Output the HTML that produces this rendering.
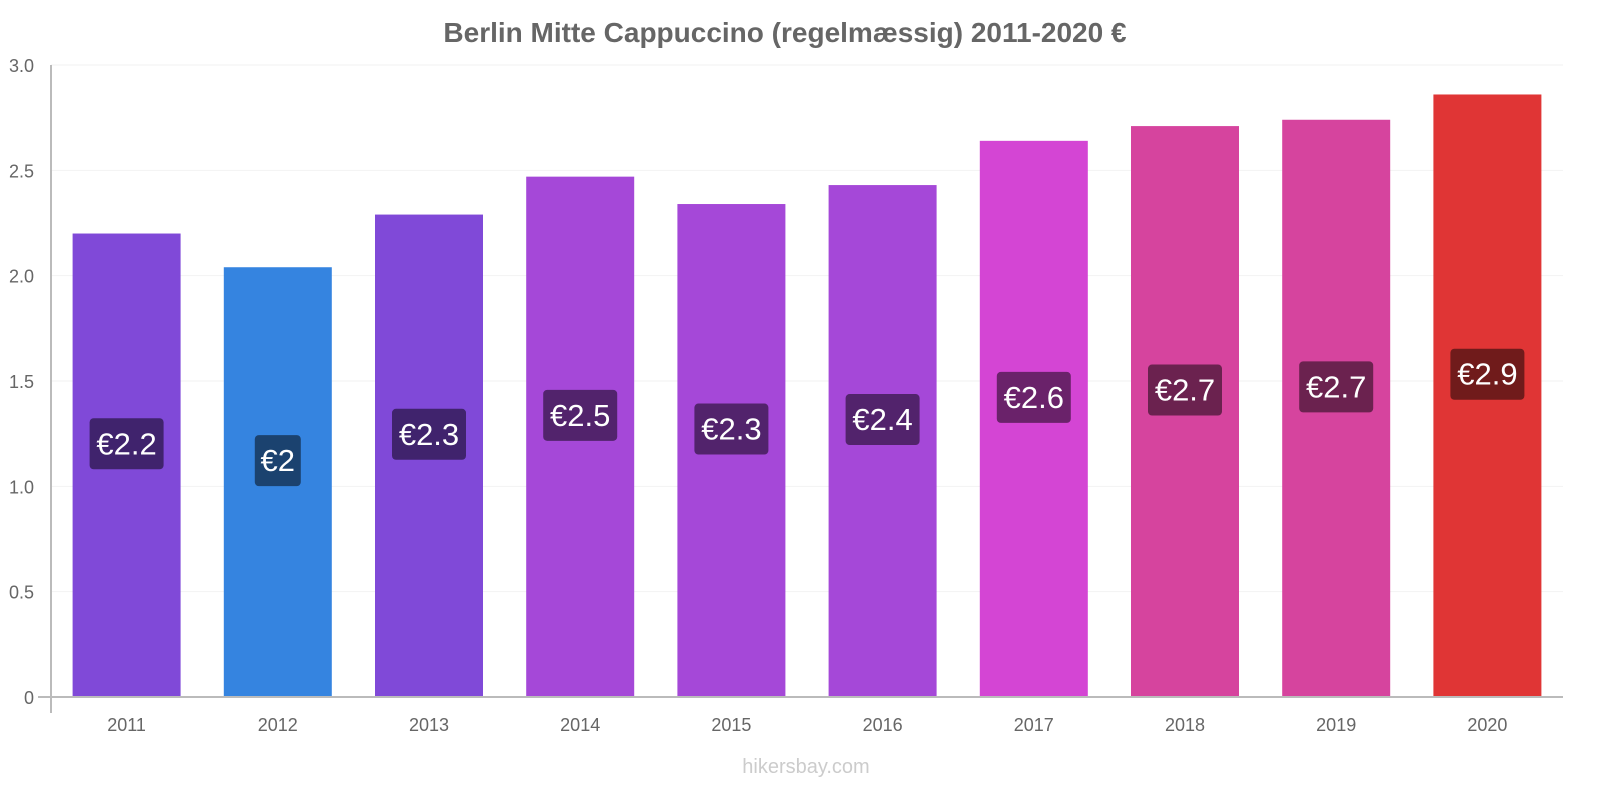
<!DOCTYPE html>
<html><head><meta charset="utf-8"><style>
html,body{margin:0;padding:0;background:#fff;overflow:hidden;width:1600px;height:800px;font-family:"Liberation Sans",sans-serif}
svg{display:block}
</style></head><body>
<svg width="1600" height="800" xmlns="http://www.w3.org/2000/svg" font-family="Liberation Sans, sans-serif">
<text x="785" y="42" text-anchor="middle" font-size="28" font-weight="bold" fill="#666">Berlin Mitte Cappuccino (regelmæssig) 2011-2020 €</text>
<g id="grid"></g>
<g id="bars"></g>
<line x1="51" y1="65" x2="51" y2="713" stroke="#bbb" stroke-width="2"/>
<line x1="38" y1="697" x2="1563" y2="697" stroke="#bbb" stroke-width="2"/>
<text x="806" y="773" text-anchor="middle" font-size="20" fill="#ccc">hikersbay.com</text>
</svg>
<script>
const categories=["2011","2012","2013","2014","2015","2016","2017","2018","2019","2020"];
const values=[2.2,2.04,2.29,2.47,2.34,2.43,2.64,2.71,2.74,2.86];
const labels=["€2.2","€2","€2.3","€2.5","€2.3","€2.4","€2.6","€2.7","€2.7","€2.9"];
const yTicks=[0,0.5,1.0,1.5,2.0,2.5,3.0];
const yTickLabels=["0","0.5","1.0","1.5","2.0","2.5","3.0"];
const colors=["#8049d8","#3584e0","#8049d8","#a548d8","#a548d8","#a548d8","#d445d4","#d6449e","#d6449e","#e03535"];
const labelBg=["#40236d","#1b426f","#40236d","#52236c","#52236c","#52236c","#6a226a","#6b224f","#6b224f","#701b1b"];
const NS="http://www.w3.org/2000/svg";
const y=v=>697-v*210.67;
const x=i=>51+151.2*(i+0.5);
const grid=document.getElementById('grid'),bars=document.getElementById('bars');
function mk(tag,attrs,parent){const e=document.createElementNS(NS,tag);for(const k in attrs)e.setAttribute(k,attrs[k]);parent.appendChild(e);return e;}
yTicks.forEach((t,i)=>{
 if(t>0){const l=mk('line',{x1:51,x2:1563,y1:y(t),y2:y(t),stroke:'#f2f2f2'},grid);
 
 }
 const tx=mk('text',{x:34,y:y(t)+7,'text-anchor':'end','font-size':18,fill:'#666'},grid);
 
 
 tx.textContent=yTickLabels[i];
});
categories.forEach((c,i)=>{
 const cx=x(i),top=y(values[i]);
 const r=mk('rect',{x:cx-54,y:top,width:108,height:697-top,fill:colors[i]},bars);
 
 
 const ly=(top+697)/2-22;
 const w=labels[i].length*14+18;
 const b=mk('rect',{x:cx-w/2,y:ly-25,width:w,height:51,rx:4,fill:labelBg[i]},bars);
 
 
 const t=mk('text',{x:cx,y:ly+11,'text-anchor':'middle','font-size':31,fill:'#fff'},bars);
 
 
 t.textContent=labels[i];
 const xl=mk('text',{x:cx,y:731,'text-anchor':'middle','font-size':18,fill:'#666'},bars);
 
 
 xl.textContent=c;
});
</script>
</body></html>
